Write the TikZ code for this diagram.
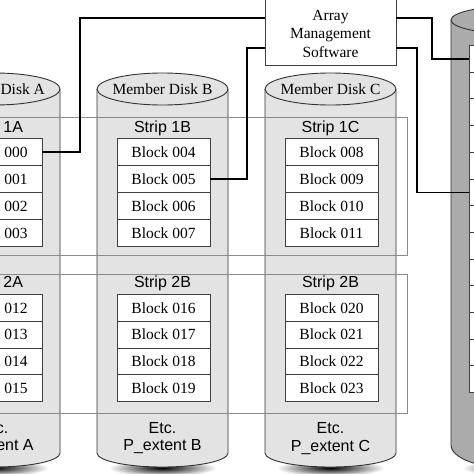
\documentclass[tikz,border=0pt]{standalone}
\usepackage{fontspec}
\setmainfont{Liberation Serif}
\setsansfont{Liberation Sans}
\begin{document}
\begin{tikzpicture}[x=1pt,y=1pt,
  cyl/.style={draw=black!80, line width=0.9pt, fill=black!11},
  cylD/.style={draw=black!80, line width=0.9pt, fill=black!33},
  cylline/.style={draw=black!80, line width=0.9pt},
  blk/.style={draw=black!75, line width=0.8pt, fill=white, minimum width=93pt, minimum height=27pt, inner sep=0pt, anchor=north, font=\fontsize{15.5}{18}\selectfont},
  dblk/.style={draw=black!75, line width=0.8pt, fill=white, minimum width=40pt, minimum height=26.7pt, inner sep=0pt, anchor=north west},
  disklbl/.style={inner sep=0pt, font=\fontsize{15.5}{18}\selectfont},
  striplbl/.style={inner sep=0pt, font=\sffamily\fontsize{16}{19}\selectfont},
  strip/.style={draw=black!45, line width=0.6pt},
  amsbox/.style={draw=black!75, line width=0.8pt, fill=white, minimum width=131pt, minimum height=70pt, inner sep=0pt},
  amstext/.style={inner sep=0pt, align=center, font=\fontsize{15.5}{18.5}\selectfont},
  conn/.style={draw=black, line width=1.5pt},
]
\useasboundingbox (0,0) rectangle (474,-474);
\clip (0,0) rectangle (474,-474);
\fill[white] (0,0) rectangle (474,-474);

% member disks
\foreach \cx/\L/\ra/\rb/\sa/\sb in {
  -5.5/A/{000,001,002,003}/{012,013,014,015}/1A/2A,
  162.5/B/{004,005,006,007}/{016,017,018,019}/1B/2B,
  330.5/C/{008,009,010,011}/{020,021,022,023}/1C/2B}{
  \shade[inner color=black, outer color=white] (\cx,-468) ellipse[x radius=54, y radius=8];
  \path[cyl] (\cx-65.5,-89) -- (\cx-65.5,-453) arc[start angle=180,end angle=360,x radius=65.5,y radius=14] -- (\cx+65.5,-89) arc[start angle=0,end angle=180,x radius=65.5,y radius=16] -- cycle;
  \draw[cylline] (\cx-65.5,-89) arc[start angle=180,end angle=360,x radius=65.5,y radius=16];
  \node[disklbl] (disk\L) at (\cx,-89) {Member Disk \L};
  \node[striplbl] (s\sa) at (\cx,-128) {Strip \sa};
  \node[striplbl] (s\sb\L) at (\cx,-283) {Strip \sb};
  \foreach \n [count=\k from 0] in \ra {
    \node[blk] (b\n) at (\cx+1,{-138-27*\k}) {Block \n};
  }
  \foreach \n [count=\k from 0] in \rb {
    \node[blk, minimum height=26.75pt] (b\n) at (\cx+1,{-294-26.75*\k}) {Block \n};
  }
  \node[striplbl] (etc\L) at (\cx,-428) {Etc.};
  \node[striplbl] (pext\L) at (\cx,-447) {P\_extent \L};
}

% strips
\draw[strip] (-82,-117) rectangle (407,-255);
\draw[strip] (-82,-274) rectangle (407,-413);

% virtual disk on the right
\shade[inner color=black, outer color=white] (516.5,-468) ellipse[x radius=54, y radius=8];
\path[cylD] (451,-20) -- (451,-445) arc[start angle=180,end angle=360,x radius=65.5,y radius=24] -- (582,-20) arc[start angle=0,end angle=180,x radius=65.5,y radius=14] -- cycle;
\draw[cylline] (451,-20) arc[start angle=180,end angle=360,x radius=65.5,y radius=14];
\foreach \k in {1,...,13} {
  \node[dblk] (d\k) at (469,{-45-26.7*(\k-1)}) {};
}

% array management software
\node[amsbox] (ams) at (330.5,-30) {};
\node[amstext] (amst) at (330.5,-33.5) {Array\\Management\\Software};

% connectors
\coordinate (j1) at (80,-18);
\coordinate (j2) at (247,-48);
\coordinate (k1) at (432,-18);
\coordinate (k2) at (417,-48);
\draw[conn] (b000.east) -| (j1) -- (j1 -| ams.west);
\draw[conn] (b005.east) -| (j2) -- (j2 -| ams.west);
\draw[conn] (k1 -| ams.east) -- (k1) |- (d1.west);
\draw[conn] (k2 -| ams.east) -- (k2) |- (d6.west);
\end{tikzpicture}
\end{document}
